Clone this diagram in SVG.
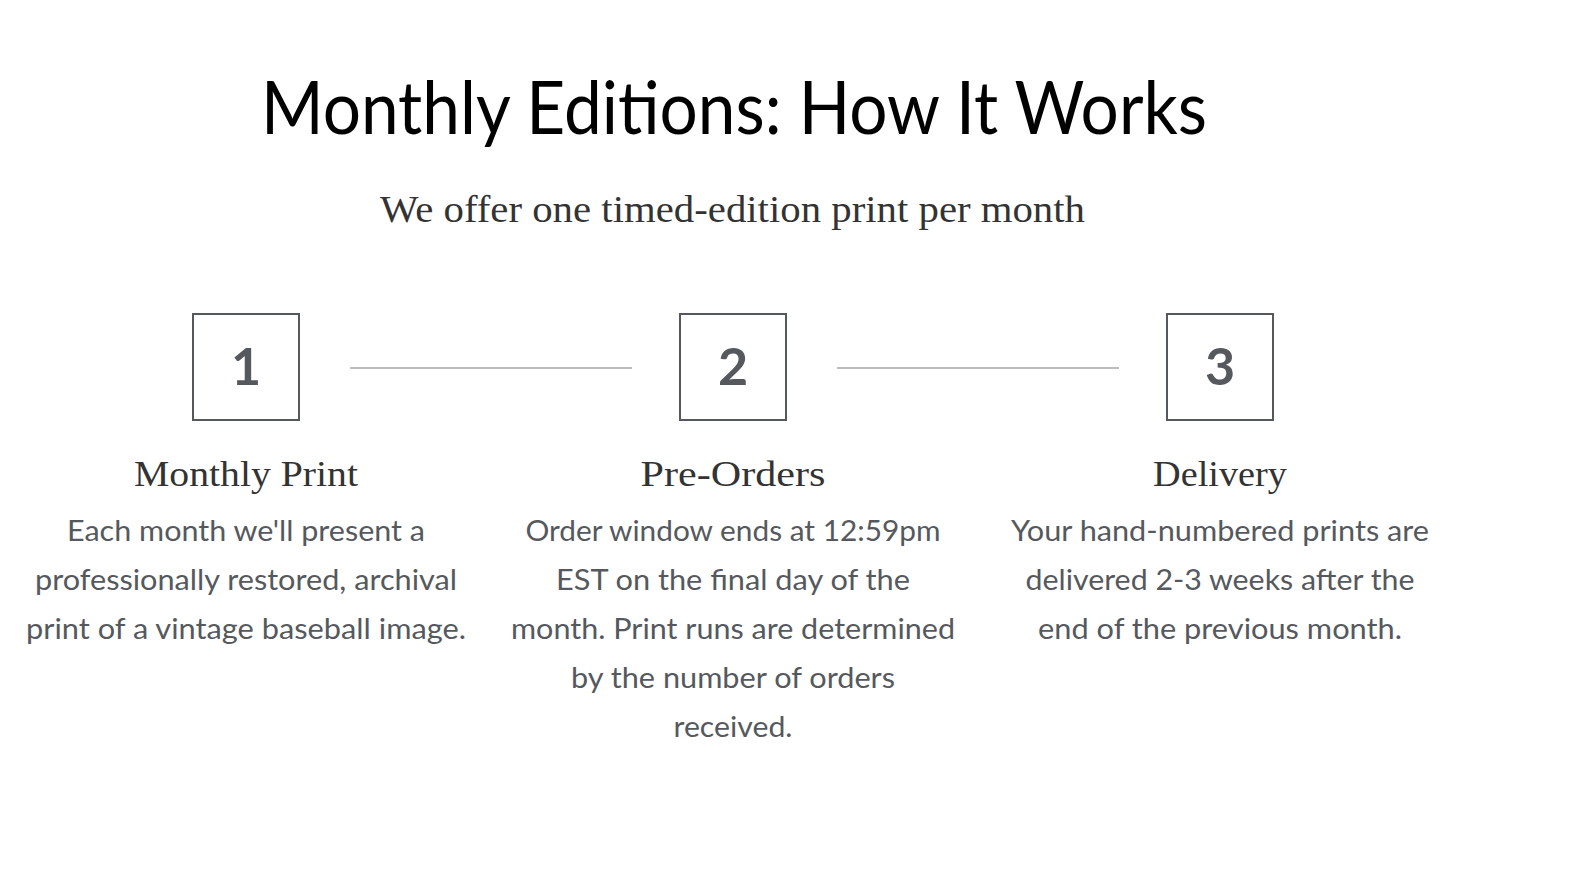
<svg xmlns="http://www.w3.org/2000/svg" width="1586" height="884" viewBox="0 0 1586 884">
<style>
.title{font-family:Lato,"Open Sans",sans-serif;font-size:74px;fill:#000;}
.sub{font-family:"Liberation Serif","DejaVu Serif",serif;font-size:38px;fill:#333;}
.box{fill:#fff;stroke:#55595e;stroke-width:2;}
.num{font-family:Lato,sans-serif;font-weight:bold;font-size:52px;fill:#55595e;text-anchor:middle;}
.head{font-family:"Liberation Serif","DejaVu Serif",serif;font-size:36px;fill:#333;text-anchor:middle;}
.body{font-family:Lato,"Open Sans",sans-serif;font-size:28px;fill:#55595e;text-anchor:middle;}
.conn{stroke:#bdbdbd;stroke-width:2;}
</style>
<rect width="1586" height="884" fill="#fff"/>
<text class="title" x="261" y="134" textLength="946" lengthAdjust="spacingAndGlyphs">Monthly Editions: How It Works</text>
<text class="sub" x="380" y="222" textLength="705" lengthAdjust="spacingAndGlyphs">We offer one timed-edition print per month</text>
<g id="connectors">
<line class="conn" x1="350" y1="368" x2="632" y2="368"/>
<line class="conn" x1="837" y1="368" x2="1119" y2="368"/>
</g>
<g id="step1">
<rect class="box" x="193" y="314" width="106" height="106"/>
<text class="num" x="246" y="385">1</text>
<text class="head" x="246" y="486" textLength="224" lengthAdjust="spacingAndGlyphs">Monthly Print</text>
<text class="body" x="246" y="541" textLength="358" lengthAdjust="spacingAndGlyphs">Each month we'll present a</text>
<text class="body" x="246" y="590" textLength="422" lengthAdjust="spacingAndGlyphs">professionally restored, archival</text>
<text class="body" x="246" y="639" textLength="440" lengthAdjust="spacingAndGlyphs">print of a vintage baseball image.</text>
</g>
<g id="step2">
<rect class="box" x="680" y="314" width="106" height="106"/>
<text class="num" x="733" y="385">2</text>
<text class="head" x="733" y="486" textLength="185" lengthAdjust="spacingAndGlyphs">Pre-Orders</text>
<text class="body" x="733" y="541" textLength="415" lengthAdjust="spacingAndGlyphs">Order window ends at 12:59pm</text>
<text class="body" x="733" y="590" textLength="354" lengthAdjust="spacingAndGlyphs">EST on the final day of the</text>
<text class="body" x="733" y="639" textLength="444" lengthAdjust="spacingAndGlyphs">month. Print runs are determined</text>
<text class="body" x="733" y="688" textLength="324" lengthAdjust="spacingAndGlyphs">by the number of orders</text>
<text class="body" x="733" y="737" textLength="119" lengthAdjust="spacingAndGlyphs">received.</text>
</g>
<g id="step3">
<rect class="box" x="1167" y="314" width="106" height="106"/>
<text class="num" x="1220" y="385">3</text>
<text class="head" x="1220" y="486" textLength="134" lengthAdjust="spacingAndGlyphs">Delivery</text>
<text class="body" x="1220" y="541" textLength="418" lengthAdjust="spacingAndGlyphs">Your hand-numbered prints are</text>
<text class="body" x="1220" y="590" textLength="389" lengthAdjust="spacingAndGlyphs">delivered 2-3 weeks after the</text>
<text class="body" x="1220" y="639" textLength="364" lengthAdjust="spacingAndGlyphs">end of the previous month.</text>
</g>
</svg>
